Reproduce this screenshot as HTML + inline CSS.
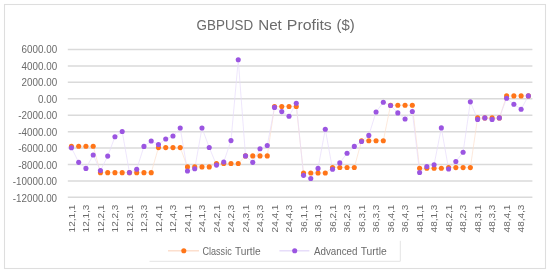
<!DOCTYPE html>
<html><head><meta charset="utf-8"><title>GBPUSD Net Profits ($)</title>
<style>
html,body{margin:0;padding:0;background:#fff;}
body{width:550px;height:273px;overflow:hidden;}
svg{display:block;}
text{font-family:"Liberation Sans",sans-serif;fill:#6b6b6b;}
</style></head><body>
<svg width="550" height="273" viewBox="0 0 550 273">
<rect x="0" y="0" width="550" height="273" fill="#fff"/>
<rect x="4.5" y="4.5" width="541" height="264" fill="#fff" stroke="#DEDEDE" stroke-width="1.1"/>

<line x1="67.8" y1="49.50" x2="532.4" y2="49.50" stroke="#DADADA" stroke-width="1.5"/>
<line x1="67.8" y1="65.93" x2="532.4" y2="65.93" stroke="#DADADA" stroke-width="1.5"/>
<line x1="67.8" y1="82.36" x2="532.4" y2="82.36" stroke="#DADADA" stroke-width="1.5"/>
<line x1="67.8" y1="98.79" x2="532.4" y2="98.79" stroke="#DADADA" stroke-width="1.5"/>
<line x1="67.8" y1="115.22" x2="532.4" y2="115.22" stroke="#DADADA" stroke-width="1.5"/>
<line x1="67.8" y1="131.65" x2="532.4" y2="131.65" stroke="#DADADA" stroke-width="1.5"/>
<line x1="67.8" y1="148.08" x2="532.4" y2="148.08" stroke="#DADADA" stroke-width="1.5"/>
<line x1="67.8" y1="164.51" x2="532.4" y2="164.51" stroke="#DADADA" stroke-width="1.5"/>
<line x1="67.8" y1="180.94" x2="532.4" y2="180.94" stroke="#DADADA" stroke-width="1.5"/>
<line x1="67.8" y1="197.37" x2="532.4" y2="197.37" stroke="#DADADA" stroke-width="1.5"/>
<text transform="translate(57.1,53.30) scale(0.985,1)" font-size="10" text-anchor="end">6000.00</text>
<text transform="translate(57.1,69.77) scale(0.985,1)" font-size="10" text-anchor="end">4000.00</text>
<text transform="translate(57.1,86.24) scale(0.985,1)" font-size="10" text-anchor="end">2000.00</text>
<text transform="translate(57.1,102.71) scale(0.985,1)" font-size="10" text-anchor="end">0.00</text>
<text transform="translate(57.1,119.18) scale(0.985,1)" font-size="10" text-anchor="end">-2000.00</text>
<text transform="translate(57.1,135.65) scale(0.985,1)" font-size="10" text-anchor="end">-4000.00</text>
<text transform="translate(57.1,152.12) scale(0.985,1)" font-size="10" text-anchor="end">-6000.00</text>
<text transform="translate(57.1,168.59) scale(0.985,1)" font-size="10" text-anchor="end">-8000.00</text>
<text transform="translate(57.1,185.06) scale(0.985,1)" font-size="10" text-anchor="end">-10000.00</text>
<text transform="translate(57.1,201.53) scale(0.985,1)" font-size="10" text-anchor="end">-12000.00</text>
<text y="29.8" font-size="15" lengthAdjust="spacingAndGlyphs"><tspan x="196.6" textLength="56.6" lengthAdjust="spacingAndGlyphs">GBPUSD</tspan> <tspan x="258.2" textLength="23.6" lengthAdjust="spacingAndGlyphs">Net</tspan> <tspan x="286.8" textLength="45.0" lengthAdjust="spacingAndGlyphs">Profits</tspan> <tspan x="336.6" textLength="18.2" lengthAdjust="spacingAndGlyphs">($)</tspan></text>
<text transform="translate(74.53,204.6) rotate(-90)" font-size="9.8" text-anchor="end" textLength="27.8" lengthAdjust="spacingAndGlyphs">12,1,1</text>
<text transform="translate(89.03,204.6) rotate(-90)" font-size="9.8" text-anchor="end" textLength="27.8" lengthAdjust="spacingAndGlyphs">12,1,3</text>
<text transform="translate(103.54,204.6) rotate(-90)" font-size="9.8" text-anchor="end" textLength="27.8" lengthAdjust="spacingAndGlyphs">12,2,1</text>
<text transform="translate(118.05,204.6) rotate(-90)" font-size="9.8" text-anchor="end" textLength="27.8" lengthAdjust="spacingAndGlyphs">12,2,3</text>
<text transform="translate(132.55,204.6) rotate(-90)" font-size="9.8" text-anchor="end" textLength="27.8" lengthAdjust="spacingAndGlyphs">12,3,1</text>
<text transform="translate(147.06,204.6) rotate(-90)" font-size="9.8" text-anchor="end" textLength="27.8" lengthAdjust="spacingAndGlyphs">12,3,3</text>
<text transform="translate(161.56,204.6) rotate(-90)" font-size="9.8" text-anchor="end" textLength="27.8" lengthAdjust="spacingAndGlyphs">12,4,1</text>
<text transform="translate(176.07,204.6) rotate(-90)" font-size="9.8" text-anchor="end" textLength="27.8" lengthAdjust="spacingAndGlyphs">12,4,3</text>
<text transform="translate(190.58,204.6) rotate(-90)" font-size="9.8" text-anchor="end" textLength="27.8" lengthAdjust="spacingAndGlyphs">24,1,1</text>
<text transform="translate(205.08,204.6) rotate(-90)" font-size="9.8" text-anchor="end" textLength="27.8" lengthAdjust="spacingAndGlyphs">24,1,3</text>
<text transform="translate(219.59,204.6) rotate(-90)" font-size="9.8" text-anchor="end" textLength="27.8" lengthAdjust="spacingAndGlyphs">24,2,1</text>
<text transform="translate(234.10,204.6) rotate(-90)" font-size="9.8" text-anchor="end" textLength="27.8" lengthAdjust="spacingAndGlyphs">24,2,3</text>
<text transform="translate(248.60,204.6) rotate(-90)" font-size="9.8" text-anchor="end" textLength="27.8" lengthAdjust="spacingAndGlyphs">24,3,1</text>
<text transform="translate(263.11,204.6) rotate(-90)" font-size="9.8" text-anchor="end" textLength="27.8" lengthAdjust="spacingAndGlyphs">24,3,3</text>
<text transform="translate(277.61,204.6) rotate(-90)" font-size="9.8" text-anchor="end" textLength="27.8" lengthAdjust="spacingAndGlyphs">24,4,1</text>
<text transform="translate(292.12,204.6) rotate(-90)" font-size="9.8" text-anchor="end" textLength="27.8" lengthAdjust="spacingAndGlyphs">24,4,3</text>
<text transform="translate(306.63,204.6) rotate(-90)" font-size="9.8" text-anchor="end" textLength="27.8" lengthAdjust="spacingAndGlyphs">36,1,1</text>
<text transform="translate(321.13,204.6) rotate(-90)" font-size="9.8" text-anchor="end" textLength="27.8" lengthAdjust="spacingAndGlyphs">36,1,3</text>
<text transform="translate(335.64,204.6) rotate(-90)" font-size="9.8" text-anchor="end" textLength="27.8" lengthAdjust="spacingAndGlyphs">36,2,1</text>
<text transform="translate(350.15,204.6) rotate(-90)" font-size="9.8" text-anchor="end" textLength="27.8" lengthAdjust="spacingAndGlyphs">36,2,3</text>
<text transform="translate(364.65,204.6) rotate(-90)" font-size="9.8" text-anchor="end" textLength="27.8" lengthAdjust="spacingAndGlyphs">36,3,1</text>
<text transform="translate(379.16,204.6) rotate(-90)" font-size="9.8" text-anchor="end" textLength="27.8" lengthAdjust="spacingAndGlyphs">36,3,3</text>
<text transform="translate(393.66,204.6) rotate(-90)" font-size="9.8" text-anchor="end" textLength="27.8" lengthAdjust="spacingAndGlyphs">36,4,1</text>
<text transform="translate(408.17,204.6) rotate(-90)" font-size="9.8" text-anchor="end" textLength="27.8" lengthAdjust="spacingAndGlyphs">36,4,3</text>
<text transform="translate(422.68,204.6) rotate(-90)" font-size="9.8" text-anchor="end" textLength="27.8" lengthAdjust="spacingAndGlyphs">48,1,1</text>
<text transform="translate(437.18,204.6) rotate(-90)" font-size="9.8" text-anchor="end" textLength="27.8" lengthAdjust="spacingAndGlyphs">48,1,3</text>
<text transform="translate(451.69,204.6) rotate(-90)" font-size="9.8" text-anchor="end" textLength="27.8" lengthAdjust="spacingAndGlyphs">48,2,1</text>
<text transform="translate(466.20,204.6) rotate(-90)" font-size="9.8" text-anchor="end" textLength="27.8" lengthAdjust="spacingAndGlyphs">48,2,3</text>
<text transform="translate(480.70,204.6) rotate(-90)" font-size="9.8" text-anchor="end" textLength="27.8" lengthAdjust="spacingAndGlyphs">48,3,1</text>
<text transform="translate(495.21,204.6) rotate(-90)" font-size="9.8" text-anchor="end" textLength="27.8" lengthAdjust="spacingAndGlyphs">48,3,3</text>
<text transform="translate(509.71,204.6) rotate(-90)" font-size="9.8" text-anchor="end" textLength="27.8" lengthAdjust="spacingAndGlyphs">48,4,1</text>
<text transform="translate(524.22,204.6) rotate(-90)" font-size="9.8" text-anchor="end" textLength="27.8" lengthAdjust="spacingAndGlyphs">48,4,3</text>
<polyline points="71.43,146.20 78.68,146.20 85.93,146.20 93.19,146.20 100.44,172.63 107.69,172.63 114.95,172.63 122.20,172.63 129.45,172.63 136.70,172.63 143.96,172.63 151.21,172.63 158.46,147.60 165.72,147.60 172.97,147.60 180.22,147.60 187.48,166.91 194.73,166.91 201.98,166.91 209.24,166.91 216.49,163.57 223.74,163.57 231.00,163.57 238.25,163.57 245.50,155.92 252.75,155.92 260.01,155.92 267.26,155.92 274.51,106.51 281.77,106.51 289.02,106.51 296.27,106.51 303.53,173.04 310.78,173.04 318.03,173.04 325.29,173.04 332.54,167.49 339.79,167.49 347.05,167.49 354.30,167.49 361.55,140.76 368.80,140.76 376.06,140.76 383.31,140.76 390.56,105.19 397.82,105.19 405.07,105.19 412.32,105.19 419.58,168.19 426.83,168.19 434.08,168.19 441.34,168.19 448.59,167.61 455.84,167.61 463.10,167.61 470.35,167.61 477.60,117.91 484.85,117.91 492.11,117.91 499.36,117.91 506.61,95.92 513.87,95.92 521.12,95.92 528.37,95.92" fill="none" stroke="#FCDFCD" stroke-width="0.7" stroke-linejoin="round"/>
<polyline points="71.43,147.68 78.68,162.34 85.93,168.39 93.19,155.01 100.44,170.57 107.69,156.12 114.95,136.81 122.20,131.50 129.45,172.59 136.70,169.30 143.96,146.40 151.21,141.01 158.46,144.51 165.72,138.99 172.97,136.07 180.22,128.00 187.48,171.07 194.73,168.76 201.98,128.00 209.24,147.43 216.49,165.10 223.74,161.97 231.00,140.60 238.25,59.81 245.50,155.92 252.75,162.34 260.01,148.79 267.26,145.50 274.51,107.41 281.77,111.61 289.02,116.18 296.27,103.21 303.53,175.35 310.78,178.48 318.03,168.39 325.29,129.19 332.54,169.30 339.79,162.92 347.05,153.20 354.30,146.40 361.55,141.46 368.80,135.41 376.06,111.98 383.31,102.26 390.56,105.56 397.82,112.89 405.07,118.94 412.32,111.45 419.58,172.43 426.83,166.54 434.08,164.73 441.34,127.92 448.59,168.93 455.84,161.43 463.10,152.25 470.35,101.85 477.60,119.39 484.85,117.91 492.11,119.39 499.36,117.91 506.61,98.31 513.87,104.20 521.12,109.31 528.37,95.92" fill="none" stroke="#E6DBFA" stroke-width="0.7" stroke-linejoin="round"/>
<circle cx="71.43" cy="146.20" r="2.55" fill="#FF7518"/>
<circle cx="78.68" cy="146.20" r="2.55" fill="#FF7518"/>
<circle cx="85.93" cy="146.20" r="2.55" fill="#FF7518"/>
<circle cx="93.19" cy="146.20" r="2.55" fill="#FF7518"/>
<circle cx="100.44" cy="172.63" r="2.55" fill="#FF7518"/>
<circle cx="107.69" cy="172.63" r="2.55" fill="#FF7518"/>
<circle cx="114.95" cy="172.63" r="2.55" fill="#FF7518"/>
<circle cx="122.20" cy="172.63" r="2.55" fill="#FF7518"/>
<circle cx="129.45" cy="172.63" r="2.55" fill="#FF7518"/>
<circle cx="136.70" cy="172.63" r="2.55" fill="#FF7518"/>
<circle cx="143.96" cy="172.63" r="2.55" fill="#FF7518"/>
<circle cx="151.21" cy="172.63" r="2.55" fill="#FF7518"/>
<circle cx="158.46" cy="147.60" r="2.55" fill="#FF7518"/>
<circle cx="165.72" cy="147.60" r="2.55" fill="#FF7518"/>
<circle cx="172.97" cy="147.60" r="2.55" fill="#FF7518"/>
<circle cx="180.22" cy="147.60" r="2.55" fill="#FF7518"/>
<circle cx="187.48" cy="166.91" r="2.55" fill="#FF7518"/>
<circle cx="194.73" cy="166.91" r="2.55" fill="#FF7518"/>
<circle cx="201.98" cy="166.91" r="2.55" fill="#FF7518"/>
<circle cx="209.24" cy="166.91" r="2.55" fill="#FF7518"/>
<circle cx="216.49" cy="163.57" r="2.55" fill="#FF7518"/>
<circle cx="223.74" cy="163.57" r="2.55" fill="#FF7518"/>
<circle cx="231.00" cy="163.57" r="2.55" fill="#FF7518"/>
<circle cx="238.25" cy="163.57" r="2.55" fill="#FF7518"/>
<circle cx="245.50" cy="155.92" r="2.55" fill="#FF7518"/>
<circle cx="252.75" cy="155.92" r="2.55" fill="#FF7518"/>
<circle cx="260.01" cy="155.92" r="2.55" fill="#FF7518"/>
<circle cx="267.26" cy="155.92" r="2.55" fill="#FF7518"/>
<circle cx="274.51" cy="106.51" r="2.55" fill="#FF7518"/>
<circle cx="281.77" cy="106.51" r="2.55" fill="#FF7518"/>
<circle cx="289.02" cy="106.51" r="2.55" fill="#FF7518"/>
<circle cx="296.27" cy="106.51" r="2.55" fill="#FF7518"/>
<circle cx="303.53" cy="173.04" r="2.55" fill="#FF7518"/>
<circle cx="310.78" cy="173.04" r="2.55" fill="#FF7518"/>
<circle cx="318.03" cy="173.04" r="2.55" fill="#FF7518"/>
<circle cx="325.29" cy="173.04" r="2.55" fill="#FF7518"/>
<circle cx="332.54" cy="167.49" r="2.55" fill="#FF7518"/>
<circle cx="339.79" cy="167.49" r="2.55" fill="#FF7518"/>
<circle cx="347.05" cy="167.49" r="2.55" fill="#FF7518"/>
<circle cx="354.30" cy="167.49" r="2.55" fill="#FF7518"/>
<circle cx="361.55" cy="140.76" r="2.55" fill="#FF7518"/>
<circle cx="368.80" cy="140.76" r="2.55" fill="#FF7518"/>
<circle cx="376.06" cy="140.76" r="2.55" fill="#FF7518"/>
<circle cx="383.31" cy="140.76" r="2.55" fill="#FF7518"/>
<circle cx="390.56" cy="105.19" r="2.55" fill="#FF7518"/>
<circle cx="397.82" cy="105.19" r="2.55" fill="#FF7518"/>
<circle cx="405.07" cy="105.19" r="2.55" fill="#FF7518"/>
<circle cx="412.32" cy="105.19" r="2.55" fill="#FF7518"/>
<circle cx="419.58" cy="168.19" r="2.55" fill="#FF7518"/>
<circle cx="426.83" cy="168.19" r="2.55" fill="#FF7518"/>
<circle cx="434.08" cy="168.19" r="2.55" fill="#FF7518"/>
<circle cx="441.34" cy="168.19" r="2.55" fill="#FF7518"/>
<circle cx="448.59" cy="167.61" r="2.55" fill="#FF7518"/>
<circle cx="455.84" cy="167.61" r="2.55" fill="#FF7518"/>
<circle cx="463.10" cy="167.61" r="2.55" fill="#FF7518"/>
<circle cx="470.35" cy="167.61" r="2.55" fill="#FF7518"/>
<circle cx="477.60" cy="117.91" r="2.55" fill="#FF7518"/>
<circle cx="484.85" cy="117.91" r="2.55" fill="#FF7518"/>
<circle cx="492.11" cy="117.91" r="2.55" fill="#FF7518"/>
<circle cx="499.36" cy="117.91" r="2.55" fill="#FF7518"/>
<circle cx="506.61" cy="95.92" r="2.55" fill="#FF7518"/>
<circle cx="513.87" cy="95.92" r="2.55" fill="#FF7518"/>
<circle cx="521.12" cy="95.92" r="2.55" fill="#FF7518"/>
<circle cx="528.37" cy="95.92" r="2.55" fill="#FF7518"/>
<circle cx="71.43" cy="147.68" r="2.55" fill="#9B55E1"/>
<circle cx="78.68" cy="162.34" r="2.55" fill="#9B55E1"/>
<circle cx="85.93" cy="168.39" r="2.55" fill="#9B55E1"/>
<circle cx="93.19" cy="155.01" r="2.55" fill="#9B55E1"/>
<circle cx="100.44" cy="170.57" r="2.55" fill="#9B55E1"/>
<circle cx="107.69" cy="156.12" r="2.55" fill="#9B55E1"/>
<circle cx="114.95" cy="136.81" r="2.55" fill="#9B55E1"/>
<circle cx="122.20" cy="131.50" r="2.55" fill="#9B55E1"/>
<circle cx="129.45" cy="172.59" r="2.55" fill="#9B55E1"/>
<circle cx="136.70" cy="169.30" r="2.55" fill="#9B55E1"/>
<circle cx="143.96" cy="146.40" r="2.55" fill="#9B55E1"/>
<circle cx="151.21" cy="141.01" r="2.55" fill="#9B55E1"/>
<circle cx="158.46" cy="144.51" r="2.55" fill="#9B55E1"/>
<circle cx="165.72" cy="138.99" r="2.55" fill="#9B55E1"/>
<circle cx="172.97" cy="136.07" r="2.55" fill="#9B55E1"/>
<circle cx="180.22" cy="128.00" r="2.55" fill="#9B55E1"/>
<circle cx="187.48" cy="171.07" r="2.55" fill="#9B55E1"/>
<circle cx="194.73" cy="168.76" r="2.55" fill="#9B55E1"/>
<circle cx="201.98" cy="128.00" r="2.55" fill="#9B55E1"/>
<circle cx="209.24" cy="147.43" r="2.55" fill="#9B55E1"/>
<circle cx="216.49" cy="165.10" r="2.55" fill="#9B55E1"/>
<circle cx="223.74" cy="161.97" r="2.55" fill="#9B55E1"/>
<circle cx="231.00" cy="140.60" r="2.55" fill="#9B55E1"/>
<circle cx="238.25" cy="59.81" r="2.55" fill="#9B55E1"/>
<circle cx="245.50" cy="155.92" r="2.55" fill="#9B55E1"/>
<circle cx="252.75" cy="162.34" r="2.55" fill="#9B55E1"/>
<circle cx="260.01" cy="148.79" r="2.55" fill="#9B55E1"/>
<circle cx="267.26" cy="145.50" r="2.55" fill="#9B55E1"/>
<circle cx="274.51" cy="107.41" r="2.55" fill="#9B55E1"/>
<circle cx="281.77" cy="111.61" r="2.55" fill="#9B55E1"/>
<circle cx="289.02" cy="116.18" r="2.55" fill="#9B55E1"/>
<circle cx="296.27" cy="103.21" r="2.55" fill="#9B55E1"/>
<circle cx="303.53" cy="175.35" r="2.55" fill="#9B55E1"/>
<circle cx="310.78" cy="178.48" r="2.55" fill="#9B55E1"/>
<circle cx="318.03" cy="168.39" r="2.55" fill="#9B55E1"/>
<circle cx="325.29" cy="129.19" r="2.55" fill="#9B55E1"/>
<circle cx="332.54" cy="169.30" r="2.55" fill="#9B55E1"/>
<circle cx="339.79" cy="162.92" r="2.55" fill="#9B55E1"/>
<circle cx="347.05" cy="153.20" r="2.55" fill="#9B55E1"/>
<circle cx="354.30" cy="146.40" r="2.55" fill="#9B55E1"/>
<circle cx="361.55" cy="141.46" r="2.55" fill="#9B55E1"/>
<circle cx="368.80" cy="135.41" r="2.55" fill="#9B55E1"/>
<circle cx="376.06" cy="111.98" r="2.55" fill="#9B55E1"/>
<circle cx="383.31" cy="102.26" r="2.55" fill="#9B55E1"/>
<circle cx="390.56" cy="105.56" r="2.55" fill="#9B55E1"/>
<circle cx="397.82" cy="112.89" r="2.55" fill="#9B55E1"/>
<circle cx="405.07" cy="118.94" r="2.55" fill="#9B55E1"/>
<circle cx="412.32" cy="111.45" r="2.55" fill="#9B55E1"/>
<circle cx="419.58" cy="172.43" r="2.55" fill="#9B55E1"/>
<circle cx="426.83" cy="166.54" r="2.55" fill="#9B55E1"/>
<circle cx="434.08" cy="164.73" r="2.55" fill="#9B55E1"/>
<circle cx="441.34" cy="127.92" r="2.55" fill="#9B55E1"/>
<circle cx="448.59" cy="168.93" r="2.55" fill="#9B55E1"/>
<circle cx="455.84" cy="161.43" r="2.55" fill="#9B55E1"/>
<circle cx="463.10" cy="152.25" r="2.55" fill="#9B55E1"/>
<circle cx="470.35" cy="101.85" r="2.55" fill="#9B55E1"/>
<circle cx="477.60" cy="119.39" r="2.55" fill="#9B55E1"/>
<circle cx="484.85" cy="117.91" r="2.55" fill="#9B55E1"/>
<circle cx="492.11" cy="119.39" r="2.55" fill="#9B55E1"/>
<circle cx="499.36" cy="117.91" r="2.55" fill="#9B55E1"/>
<circle cx="506.61" cy="98.31" r="2.55" fill="#9B55E1"/>
<circle cx="513.87" cy="104.20" r="2.55" fill="#9B55E1"/>
<circle cx="521.12" cy="109.31" r="2.55" fill="#9B55E1"/>
<circle cx="528.37" cy="95.92" r="2.55" fill="#9B55E1"/>
<path d="M149.5 261.3 H400.3 V240.8" fill="none" stroke="#E4E4E4" stroke-width="1"/>
<line x1="168" y1="250.8" x2="199" y2="250.8" stroke="#FCDAC6" stroke-width="1.3"/>
<circle cx="183.8" cy="250.8" r="2.55" fill="#FF7518"/>
<text y="254.5" font-size="10.1"><tspan x="202.5" textLength="29.2" lengthAdjust="spacingAndGlyphs">Classic</tspan> <tspan x="235.0" textLength="25.6" lengthAdjust="spacingAndGlyphs">Turtle</tspan></text>
<line x1="279.4" y1="250.8" x2="309.4" y2="250.8" stroke="#E3D7F9" stroke-width="1.3"/>
<circle cx="294.7" cy="250.8" r="2.55" fill="#9B55E1"/>
<text y="254.5" font-size="10.1"><tspan x="313.9" textLength="43.6" lengthAdjust="spacingAndGlyphs">Advanced</tspan> <tspan x="360.7" textLength="26.0" lengthAdjust="spacingAndGlyphs">Turtle</tspan></text>
</svg></body></html>
